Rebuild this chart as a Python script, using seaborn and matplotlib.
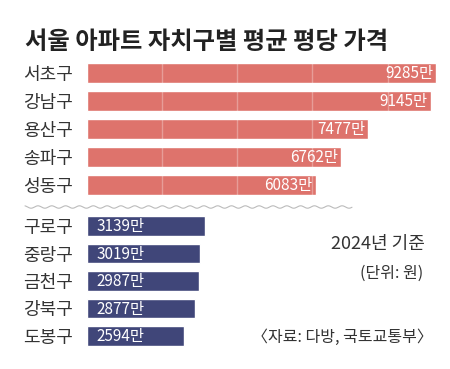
import numpy as np
import pandas as pd
import seaborn as sns
from matplotlib import pyplot as plt

top_gu = ['서초구', '강남구', '용산구', '송파구', '성동구']
top_price = [9285, 9145, 7477, 6762, 6083]
bottom_gu = ['구로구', '중랑구', '금천구', '강북구', '도봉구']
bottom_price = [3139, 3019, 2987, 2877, 2594]

sns.set_theme(style='white')
plt.rcParams['font.family'] = ['Noto Sans CJK KR', 'DejaVu Sans']

W, H = 450, 369
fig = plt.figure(figsize=(W / 100, H / 100), dpi=100)

def px_axes(top, bottom):
    return fig.add_axes([87 / W, 1 - bottom / H, 357 / W, (bottom - top) / H])

ax_top = px_axes(59, 199)
ax_bot = px_axes(212.25, 349.75)

for ax, gu, price, color, inside_right in [
    (ax_top, top_gu, top_price, '#DE736C', True),
    (ax_bot, bottom_gu, bottom_price, '#404679', False),
]:
    df = pd.DataFrame({'gu': gu, 'price': price})
    sns.barplot(data=df, x='price', y='gu', color=color, width=0.72,
                saturation=1, ax=ax, orient='h')
    ax.set_xlim(0, 9500)
    ax.set_xlabel('')
    ax.set_ylabel('')
    ax.set_xticks([])
    sns.despine(ax=ax, left=True, bottom=True)
    ax.tick_params(axis='y', length=0, pad=10, labelsize=13, labelcolor='#333333')
    for i, v in enumerate(price):
        if inside_right:
            ax.text(v - 80, i + 0.03, f'{v}만', ha='right', va='center', color='white',
                    fontsize=11, fontweight='medium', zorder=5)
        else:
            ax.text(260, i + 0.03, f'{v}만', ha='left', va='center', color='white',
                    fontsize=11, fontweight='medium', zorder=5)
    if inside_right:
        for g in [2000, 4000, 6000, 8000]:
            ax.axvline(g, color='white', lw=1, alpha=0.3, zorder=3)

# title
fig.text(25 / W, 1 - 42 / H, '서울 아파트 자치구별 평균 평당 가격', fontsize=17.5,
         fontweight='bold', color='#222222', ha='left', va='center')

# wavy separator
xs = np.linspace(25, 352, 400)
ys = 207 + 1.2 * np.sin(xs / 2.2)
fig.add_artist(plt.Line2D(xs / W, 1 - ys / H, color='#BBBBBB', lw=0.8))

# notes
fig.text(425 / W, 1 - 244 / H, '2024년 기준', fontsize=13, color='#333333',
         ha='right', va='center')
fig.text(423 / W, 1 - 273 / H, '(단위: 원)', fontsize=11.5, color='#333333',
         ha='right', va='center')
fig.text(433 / W, 1 - 337 / H, '〈자료: 다방, 국토교통부〉', fontsize=11.5, color='#333333',
         ha='right', va='center')

fig.savefig('out.png', dpi=100, facecolor='white')
